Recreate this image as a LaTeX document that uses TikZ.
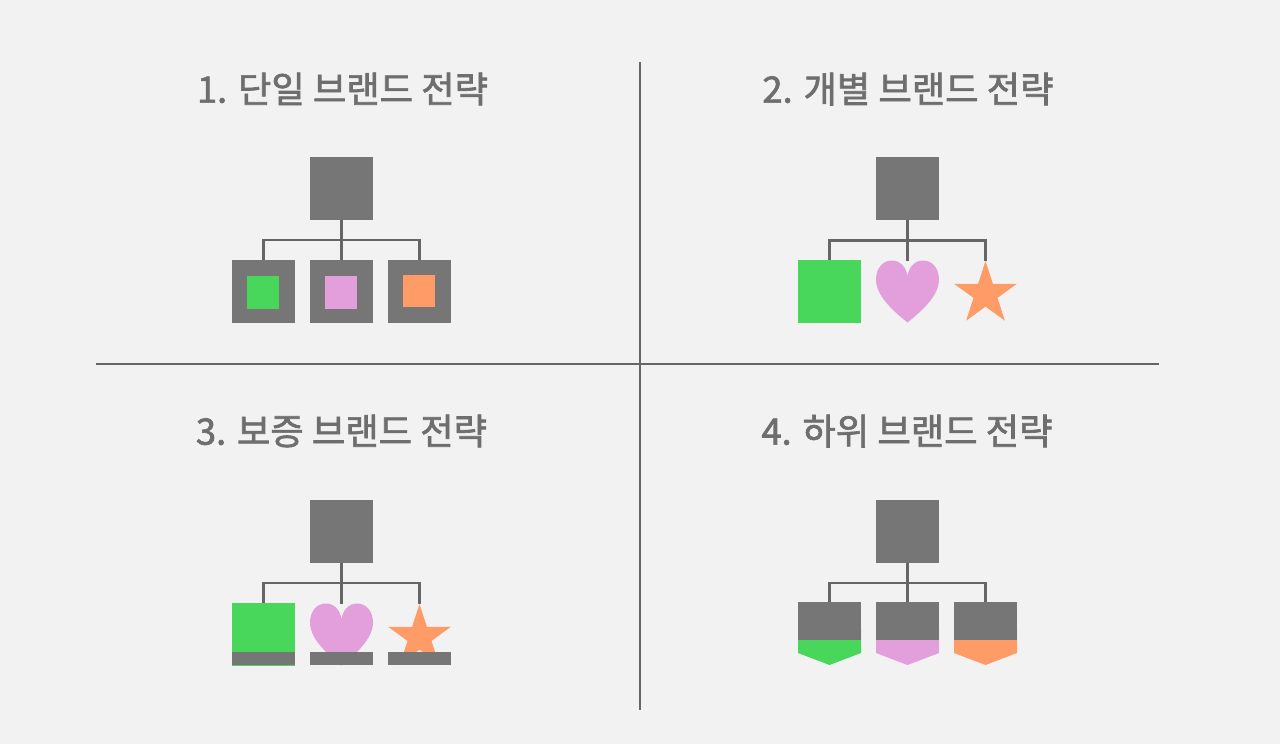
\documentclass[tikz,border=0pt]{standalone}
\usepackage{fontspec}
\newfontfamily\krfont[FakeBold=1.8]{Noto Sans CJK KR}
\usetikzlibrary{shapes.geometric}
\definecolor{bgc}{HTML}{F2F2F2}
\definecolor{boxc}{HTML}{767676}
\definecolor{linec}{HTML}{666666}
\definecolor{titlec}{HTML}{6E6E6E}
\definecolor{greenc}{HTML}{48D75B}
\definecolor{pinkc}{HTML}{E39FDC}
\definecolor{orangec}{HTML}{FF9B67}
\tikzset{
 x=1pt,y=-1pt,
 sq/.style={rectangle,minimum width=63pt,minimum height=63pt,inner sep=0pt,outer sep=0pt,fill=#1},
 inner/.style={rectangle,minimum width=32.5pt,minimum height=32.5pt,inner sep=0pt,outer sep=0pt,fill=#1},
 bar/.style={rectangle,minimum width=63pt,minimum height=13pt,inner sep=0pt,outer sep=0pt,fill=boxc},
 head/.style={rectangle,minimum width=63pt,minimum height=38pt,inner sep=0pt,outer sep=0pt,fill=boxc},
 starn/.style={star,star points=5,star point ratio=2.618,minimum size=66pt,inner sep=0pt,outer sep=0pt,fill=orangec},
 conn/.style={draw=linec,line width=2.4pt},
 divider/.style={draw=linec,line width=2.4pt},
 title/.style={font=\krfont\fontsize{36.3}{36.3}\selectfont,text=titlec,inner sep=0pt,anchor=center},
}
\newcommand{\heartat}[3]{% name, cx, ytop
 \fill[pinkc] (#2,#3+16) .. controls (#2+1,#3+7) and (#2+7,#3) .. (#2+15.5,#3)
  .. controls (#2+25,#3) and (#2+31.5,#3+8) .. (#2+31.5,#3+19)
  .. controls (#2+31.5,#3+35) and (#2+15,#3+50) .. (#2,#3+62)
  .. controls (#2-15,#3+50) and (#2-31.5,#3+35) .. (#2-31.5,#3+19)
  .. controls (#2-31.5,#3+8) and (#2-25,#3) .. (#2-15.5,#3)
  .. controls (#2-7,#3) and (#2-1,#3+7) .. (#2,#3+16) -- cycle;
 \coordinate (#1) at (#2,#3);
}
\begin{document}
\begin{tikzpicture}
\path[use as bounding box,fill=bgc] (0,0) rectangle (1280,744);
% dividers
\coordinate (vt) at (640,62); \coordinate (vb) at (640,710);
\coordinate (hl) at (96,364); \coordinate (hr) at (1159,364);
\draw[divider] (vt) -- (vb);
\draw[divider] (hl) -- (hr);
% titles
\node[title] (t1) at (342.5,89) {1. 단일 브랜드 전략};
\node[title] (t2) at (908,89) {2. 개별 브랜드 전략};
\node[title] (t3) at (341.5,431) {3. 보증 브랜드 전략};
\node[title] (t4) at (907,431) {4. 하위 브랜드 전략};
% panel 1
\node[sq=boxc] (a) at (341.5,188.5) {};
\node[sq=boxc] (a1) at (263.5,291.5) {};
\node[sq=boxc] (a2) at (341.5,291.5) {};
\node[sq=boxc] (a3) at (419.5,291.5) {};
\node[inner=greenc] (a1i) at (263,292.5) {};
\node[inner=pinkc] (a2i) at (341,292.5) {};
\node[inner=orangec] (a3i) at (419,291) {};
\coordinate (ab) at (341.5,240);
\draw[conn] (a1.north) |- (ab) -| (a3.north);
\draw[conn] (a.south) -- (a2.north);
% panel 2
\node[sq=boxc] (b) at (907.5,188.5) {};
\node[sq=greenc] (b1) at (829.5,291.5) {};
\heartat{b2}{907.5}{260.5}
\node[starn] (b3) at (985.5,294) {};
\coordinate (bb) at (907.5,240.5);
\draw[conn] (b1.north) |- (bb) -| (b3.outer point 1);
\draw[conn] (b.south) -- (b2);
% panel 3
\node[sq=boxc] (c) at (341.5,531.5) {};
\node[sq=greenc] (c1) at (263.5,634) {};
\heartat{c2}{341.5}{603.5}
\node[starn] (c3) at (419.5,637) {};
\node[bar] (c1b) at (263.5,658.5) {};
\node[bar] (c2b) at (341.5,658.5) {};
\node[bar] (c3b) at (419.5,658.5) {};
\coordinate (cb) at (341.5,583);
\draw[conn] (c1.north) |- (cb) -| (c3.outer point 1);
\draw[conn] (c.south) -- (c2);
% panel 4
\node[sq=boxc] (d) at (907.5,531.5) {};
\fill[greenc] (798,630) -- (861,630) -- (861,653) -- (829.5,665) -- (798,653) -- cycle;
\fill[pinkc] (876,630) -- (939,630) -- (939,653) -- (907.5,665) -- (876,653) -- cycle;
\fill[orangec] (954,630) -- (1017,630) -- (1017,653) -- (985.5,665) -- (954,653) -- cycle;
\node[head] (d1) at (829.5,621) {};
\node[head] (d2) at (907.5,621) {};
\node[head] (d3) at (985.5,621) {};
\coordinate (db) at (907.5,583);
\draw[conn] (d1.north) |- (db) -| (d3.north);
\draw[conn] (d.south) -- (d2.north);
\end{tikzpicture}
\end{document}
